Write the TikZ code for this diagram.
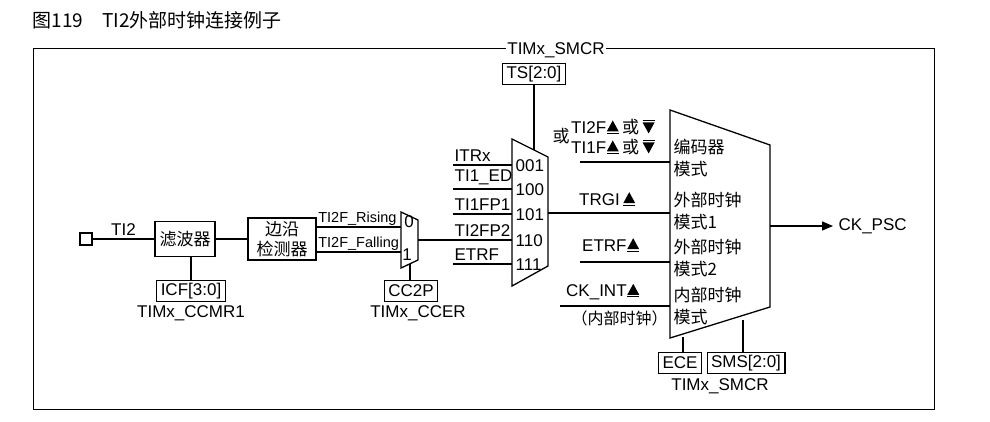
\documentclass[tikz,border=0pt]{standalone}
\usepackage{fontspec}
\setmainfont{Liberation Sans}
\newfontfamily\cjk{Noto Sans CJK SC}
\usetikzlibrary{arrows.meta}
\newcommand{\rs}{\tikz[baseline=0pt,x=1pt,y=1pt]{\fill (0,2)--(12,2)--(6,13)--cycle;\draw[line width=1.2pt] (0,0)--(12,0);}}
\newcommand{\fl}{\tikz[baseline=0pt,x=1pt,y=1pt]{\fill (0,11)--(12,11)--(6,0)--cycle;\draw[line width=1.2pt] (0,13)--(12,13);}}
\begin{document}
\begin{tikzpicture}[x=1pt,y=-1pt,line width=1.3pt,
  every node/.style={inner sep=1pt,font=\fontsize{17}{18}\selectfont},
  box/.style={draw,minimum height=21pt,inner xsep=4pt,inner ysep=2pt,line width=1.1pt},
  blk/.style={draw,font=\cjk\fontsize{17}{20}\selectfont},
  zh/.style={font=\cjk\fontsize{17}{22}\selectfont,align=left,anchor=west}]
\useasboundingbox (0,0) rectangle (990,421);
\node[anchor=west,font=\cjk\fontsize{19}{22}\selectfont] (title) at (31,20) {图119\quad TI2外部时钟连接例子};
\draw[line width=1pt] (33,48) rectangle (934,409);
% input
\node[draw,minimum size=12pt,inner sep=0pt] (pin) at (86,239) {};
\node[blk,minimum width=60pt,minimum height=35pt] (flt) at (185,239) {滤波器};
\node[blk,minimum width=68pt,minimum height=42pt,align=center,inner sep=1pt] (edge) at (282,239) {边沿\\检测器};
\draw (pin) -- node[above,inner sep=3pt] {TI2} (flt);
\draw (flt) -- (edge);
\node[box] (icf) at (191,291) {ICF[3:0]};
\node (ccmr) at (191,313) {TIMx\_CCMR1};
\draw (flt.south -| icf) -- (icf);
% small mux
\draw (401,212) -- (418,220) -- (418,260) -- (401,268) -- cycle;
\node (m0) at (409,222) {0};
\node (m1) at (407,255) {1};
\coordinate (mr) at (401,227); \coordinate (mf) at (401,252);
\draw (edge.east |- mr) -- node[anchor=south west,pos=0,font=\fontsize{14.5}{16}\selectfont] {TI2F\_Rising} (mr);
\draw (edge.east |- mf) -- node[anchor=south west,pos=0,font=\fontsize{14.5}{16}\selectfont] {TI2F\_Falling} (mf);
\node[box] (cc2p) at (411,291) {CC2P};
\node (ccer) at (418,313) {TIMx\_CCER};
\coordinate (mb) at (410,264);
\draw (mb) -- (mb |- cc2p.north);
% trigger mux
\draw (512,139) -- (548,157) -- (548,266) -- (512,286) -- cycle;
\node[box] (ts) at (534,74) {TS[2:0]};
\node[fill=white] (smcr1) at (556,50) {TIMx\_SMCR};
\coordinate (tmt) at (534,150);
\draw (ts) -- (tmt);
\foreach \y/\c/\n in {165/001/a,189/100/b,214/101/c,240/110/d,264/111/e}{
  \coordinate (i\n) at (512,\y);
  \coordinate (s\n) at (453,\y);
  \node[anchor=west] (c\n) at (514,\y+1) {\c};
}
\foreach \n/\t in {a/ITRx,b/TI1\_ED,c/TI1FP1,e/ETRF}{\draw (s\n) -- node[anchor=south west,pos=0,inner ysep=3pt] {\t} (i\n);}
\draw (418,240) -- (id);
\node[anchor=south west,inner ysep=3pt] (l2) at (453,240) {TI2FP2};
% slave mode block
\draw (670,110) -- (770,145) -- (770,307) -- (670,338) -- cycle;
\coordinate (ka) at (670,162); \coordinate (kb) at (670,213);
\coordinate (kc) at (670,262); \coordinate (kd) at (670,306);
\coordinate (sa) at (580,162); \coordinate (sc) at (580,262); \coordinate (sd) at (560,306);
\draw (sa) -- (ka);
\draw (548,213) -- (kb);
\draw (sc) -- (kc);
\draw (sd) -- (kd);
\node[font=\cjk\fontsize{17}{20}\selectfont] (or) at (561,136) {或};
\node[anchor=west] (t2f) at (570,127) {TI2F\rs\,{\cjk 或}\,\fl};
\node[anchor=west] (t1f) at (570,147) {TI1F\rs\,{\cjk 或}\,\fl};
\node[anchor=west] (trgi) at (578,199) {TRGI\,\rs};
\node[anchor=west] (etrf) at (581,245) {ETRF\rs};
\node[anchor=west] (ckint) at (565,292) {CK\_INT\rs};
\node[anchor=west,font=\cjk\fontsize{16}{19}\selectfont] (intc) at (570,318) {（内部时钟）};
\node[zh] (z1) at (672,158) {编码器\\模式};
\node[zh] (z2) at (672,211) {外部时钟\\模式1};
\node[zh] (z3) at (672,258) {外部时钟\\模式2};
\node[zh] (z4) at (672,306) {内部时钟\\模式};
\coordinate (out) at (770,226);
\coordinate (pk) at (833,226);
\draw[-{Triangle[length=11pt,width=9pt]}] (out) -- (pk);
\node[anchor=west] (ckpsc) at (837,226) {CK\_PSC};
\node[box] (ece) at (680,363) {ECE};
\node[box] (sms) at (746,363) {SMS[2:0]};
\node (smcr2) at (720,386) {TIMx\_SMCR};
\draw (683,337) -- (683,353);
\draw (743,320) -- (743,353);
\end{tikzpicture}
\end{document}
